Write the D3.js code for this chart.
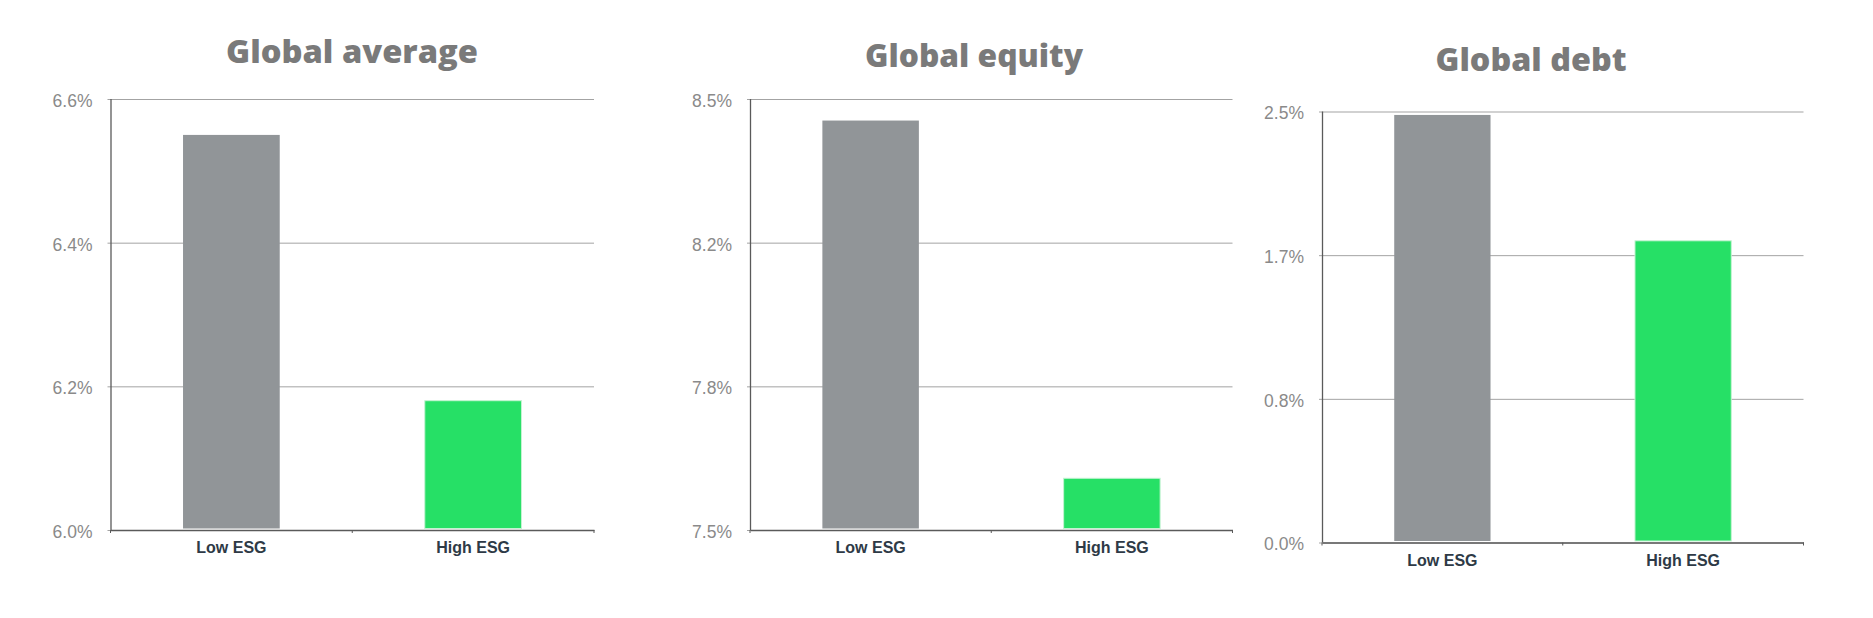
<!DOCTYPE html>
<html>
<head>
<meta charset="utf-8">
<script src="https://cdn.jsdelivr.net/npm/d3@7/dist/d3.min.js"></script>
<style>
  html, body { margin: 0; padding: 0; background: #ffffff; }
  svg { display: block; }
</style>
</head>
<body>
<svg id="chart" width="1873" height="618"></svg>
<script>
// ---- data ----
const categories = ["Low ESG", "High ESG"];
const titles = ["Global average", "Global equity", "Global debt"];
const averageValues = [6.55, 6.18];
const equityValues = [8.45, 7.62];
const debtValues = [2.48, 1.75];
const averageDomain = [6.0, 6.6];
const equityDomain = [7.5, 8.5];
const debtDomain = [0.0, 2.5];
const averageTicks = [6.0, 6.2, 6.4, 6.6];
const equityTicks = [7.5, 7.8333, 8.1667, 8.5];
const debtTicks = [0.0, 0.8333, 1.6667, 2.5];
const barColors = ["#919598", "#26e066"];

// ---- layout ----
const panels = [
  { title: titles[0], values: averageValues, domain: averageDomain, ticks: averageTicks,
    left: 110.5, top: 99, width: 483.5, height: 431, titleX: 352, titleY: 63, titleW: 252 },
  { title: titles[1], values: equityValues, domain: equityDomain, ticks: equityTicks,
    left: 750, top: 99, width: 482.5, height: 431, titleX: 974, titleY: 67, titleW: 218 },
  { title: titles[2], values: debtValues, domain: debtDomain, ticks: debtTicks,
    left: 1322, top: 111.5, width: 481.5, height: 431, titleX: 1531, titleY: 71, titleW: 191 }
];

const svg = d3.select("#chart");
const fmt = d3.format(".1f");

panels.forEach(p => {
  // title
  svg.append("text")
    .attr("x", p.titleX)
    .attr("y", p.titleY)
    .attr("text-anchor", "middle")
    .attr("font-family", "'Open Sans', Lato, sans-serif")
    .attr("font-weight", 800)
    .attr("font-size", 32)
    .attr("fill", "#7a7a7a")
    .attr("textLength", p.titleW)
    .attr("lengthAdjust", "spacingAndGlyphs")
    .text(p.title);

  const g = svg.append("g").attr("transform", `translate(${p.left},${p.top})`);

  const x = d3.scaleBand().domain(categories).range([0, p.width])
    .paddingInner(0.6).paddingOuter(0.3);
  const y = d3.scaleLinear().domain(p.domain).range([p.height, 0]);

  // y axis with gridlines
  const yAxis = d3.axisLeft(y).tickValues(p.ticks)
    .tickFormat(d => fmt(d) + "%")
    .tickSize(-p.width).tickPadding(18);
  const yg = g.append("g").call(yAxis);
  yg.select(".domain").remove();
  yg.selectAll(".tick line").attr("stroke", "#a3a3a3").attr("stroke-width", 1)
    .attr("x1", -3);
  yg.selectAll(".tick text")
    .attr("font-family", "'Liberation Sans', Arial, sans-serif")
    .attr("font-size", 17.5)
    .attr("fill", "#8a8a8a")
    .attr("x", -18)
    .attr("dy", "0.42em");

  // bars
  g.selectAll("rect.bar").data(p.values).enter().append("rect")
    .attr("class", "bar")
    .attr("x", (d, i) => x(categories[i]))
    .attr("width", x.bandwidth())
    .attr("y", d => y(d))
    .attr("height", d => p.height - y(d) - 1.5)
    .attr("fill", (d, i) => barColors[i])
    .attr("stroke", (d, i) => i === 1 ? "#c4f3d2" : "none")
    .attr("stroke-width", 1);

  // left axis line
  g.append("line")
    .attr("x1", 0.5).attr("x2", 0.5)
    .attr("y1", 0).attr("y2", p.height)
    .attr("stroke", "#5a5a5a").attr("stroke-width", 1.3);

  // bottom axis
  const xAxis = d3.axisBottom(x).tickSize(0).tickPadding(18);
  const xg = g.append("g").attr("transform", `translate(0,${p.height})`).call(xAxis);
  xg.select(".domain").attr("stroke", "#5a5a5a").attr("stroke-width", 1.3);
  xg.selectAll(".tick text")
    .attr("font-family", "'Liberation Sans', Arial, sans-serif")
    .attr("font-size", 16)
    .attr("font-weight", "bold")
    .attr("fill", "#2e3a46")
    .attr("dy", "0.71em")
    .attr("y", 12);

  // small ticks at band boundaries
  g.selectAll("line.bt").data([0, p.width / 2, p.width]).enter().append("line")
    .attr("class", "bt")
    .attr("x1", d => d).attr("x2", d => d)
    .attr("y1", p.height).attr("y2", p.height + 3)
    .attr("stroke", "#5a5a5a").attr("stroke-width", 1);
});
</script>
</body>
</html>
